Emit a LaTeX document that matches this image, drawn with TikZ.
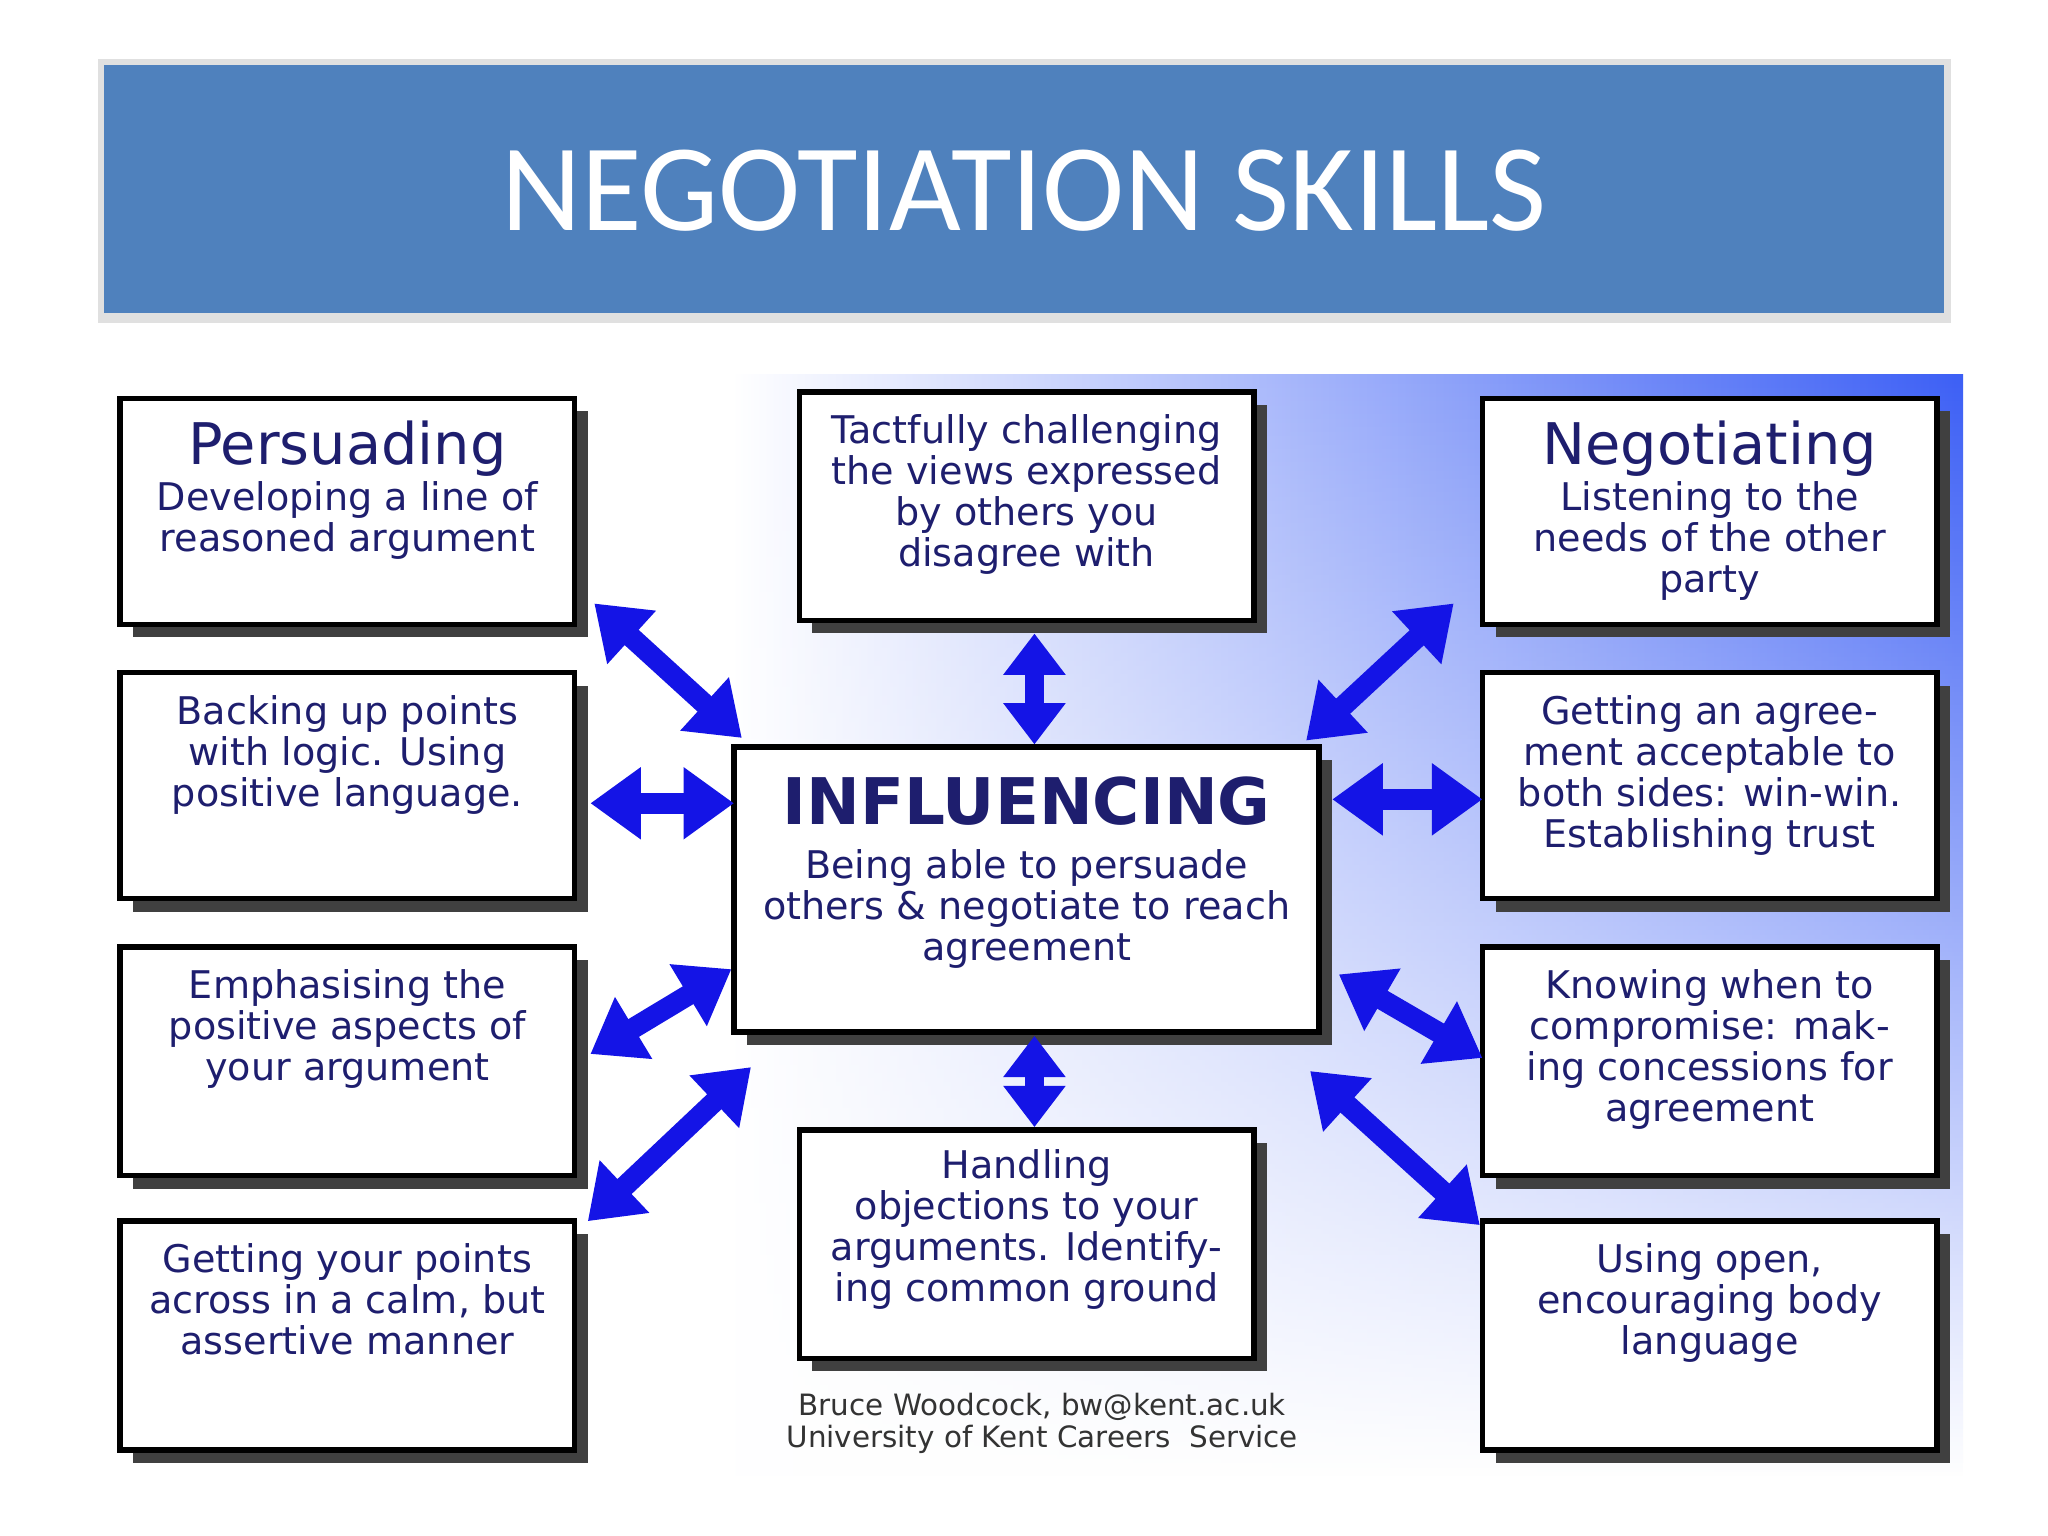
\documentclass[tikz,border=0pt]{standalone}
\usepackage{fontspec}
\setmainfont{DejaVu Sans}
\newfontfamily\titlefont{Carlito}
\usetikzlibrary{arrows.meta,fadings}
\definecolor{tblue}{RGB}{79,129,189}
\definecolor{ink}{RGB}{30,30,110}
\definecolor{arr}{RGB}{20,20,230}
\tikzset{x=0.01cm,y=-0.01cm,
 box/.style={draw=black,line width=1.2pt,fill=white},
 txt/.style={text=ink,align=center,anchor=north,font=\fontsize{8.3}{8.9}\selectfont},
 dbl/.style={draw=arr,line width=4.5pt,{Triangle[length=11pt,width=15pt]}-{Triangle[length=11pt,width=15pt]}}}
\begin{document}
\begin{tikzpicture}
\useasboundingbox (0,0) rectangle (1568,1176);
\fill[white] (0,0) rectangle (1568,1176);
% title
\fill[black!12] (75,45) rectangle (1494,247);
\fill[tblue] (80,50) rectangle (1488,240);
\node[text=white,font=\titlefont\fontsize{27}{28}\selectfont] (title) at (784,146) {NEGOTIATION SKILLS};
% background
\shade[left color=white,right color={rgb,255:red,60;green,95;blue,245},path fading=south] (560,287) rectangle (1503,1130);
% boxes
\foreach \x/\y/\w/\h in {92/305/348/173,92/515/348/173,92/725/348/175,92/935/348/175,
 1135/305/348/173,1135/515/348/173,1135/725/348/175,1135/935/348/175,
 612/300/348/175,612/865/348/175,562/572/448/218}{
 \fill[black!75] (\x+10,\y+10) rectangle (\x+\w+10,\y+\h+10);
 \draw[box] (\x,\y) rectangle (\x+\w,\y+\h);}
% texts
\node[txt] (l1) at (266,310) {{\fontsize{12.5}{13.5}\selectfont Persuading}\\Developing a line of\\reasoned argument};
\node[txt] (l2) at (266,520) {Backing up points\\with logic. Using\\positive language.};
\node[txt] (l3) at (266,730) {Emphasising the\\positive aspects of\\your argument};
\node[txt] (l4) at (266,940) {Getting your points\\across in a calm, but\\assertive manner};
\node[txt] (r1) at (1309,310) {{\fontsize{12.5}{13.5}\selectfont Negotiating}\\Listening to the\\needs of the other\\party};
\node[txt] (r2) at (1309,520) {Getting an agree-\\ment acceptable to\\both sides: win-win.\\Establishing trust};
\node[txt] (r3) at (1309,730) {Knowing when to\\compromise: mak-\\ing concessions for\\agreement};
\node[txt] (r4) at (1309,940) {Using open,\\encouraging body\\language};
\node[txt] (t) at (786,305) {Tactfully challenging\\the views expressed\\by others you\\disagree with};
\node[txt] (b) at (786,868) {Handling\\objections to your\\arguments. Identify-\\ing common ground};
\node[txt] (c) at (786,582) {{\fontsize{14}{16.5}\selectfont\bfseries INFLUENCING}\\[3pt]Being able to persuade\\others \& negotiate to reach\\agreement};
\node[text=black!80,align=center,font=\fontsize{6.4}{7}\selectfont] (foot) at (798,1090) {Bruce Woodcock, bw@kent.ac.uk\\University of Kent Careers\ \ Service};
% arrows
\coordinate (a1) at (455,462); \coordinate (a2) at (568,565);
\coordinate (b1) at (452,615); \coordinate (b2) at (562,615);
\coordinate (c1) at (452,807); \coordinate (c2) at (560,742);
\coordinate (d1) at (450,935); \coordinate (d2) at (575,817);
\coordinate (e1) at (792,485); \coordinate (e2) at (792,570);
\coordinate (f1) at (792,793); \coordinate (f2) at (792,863);
\coordinate (g1) at (1113,462); \coordinate (g2) at (1000,567);
\coordinate (h1) at (1020,612); \coordinate (h2) at (1135,612);
\coordinate (i1) at (1025,746); \coordinate (i2) at (1135,810);
\coordinate (j1) at (1003,820); \coordinate (j2) at (1133,938);
\foreach \p in {a,b,c,d,g,h,i,j}{\draw[dbl] (\p1) -- (\p2);}
\foreach \p in {e,f}{\draw[draw=arr,line width=4pt,{Triangle[length=9pt,width=13pt]}-{Triangle[length=9pt,width=13pt]}] (\p1) -- (\p2);}
\end{tikzpicture}
\end{document}
